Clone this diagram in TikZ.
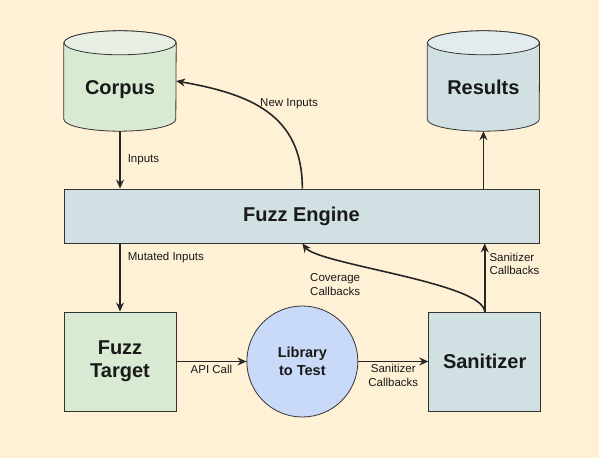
\documentclass[tikz,border=0pt]{standalone}
\usepackage{fontspec}
\setmainfont{Liberation Sans}
\usetikzlibrary{arrows.meta,positioning,backgrounds}
\definecolor{paper}{HTML}{FFF1D6}
\definecolor{leaf}{HTML}{D9EAD3}
\definecolor{leaftop}{HTML}{E7F0E3}
\definecolor{slate}{HTML}{D0E0E3}
\definecolor{slatetop}{HTML}{E2ECEE}
\definecolor{sky}{HTML}{C9DAF8}
\definecolor{edgegray}{HTML}{333333}

% body and lid of a storage drum round an (undrawn) node
\newcommand\drum[3]{%
  \filldraw[fill=#2,draw=edgegray,line width=0.8pt]
    ([yshift=-12pt]#1.north west) -- ([yshift=12pt]#1.south west)
    arc[start angle=180,end angle=360,x radius=56pt,y radius=12pt]
    -- ([yshift=-12pt]#1.north east)
    arc[start angle=0,end angle=180,x radius=56pt,y radius=12pt] -- cycle;
  \filldraw[fill=#3,draw=edgegray,line width=0.8pt]
    ([yshift=-12pt]#1.north) ellipse[x radius=56pt,y radius=12pt];
}

\begin{document}
\begin{tikzpicture}[x=1pt,y=1pt,
    every node/.style={text=black!90},
    box/.style={draw=edgegray,line width=0.9pt,minimum width=112pt,minimum height=99pt,
      align=center,font=\bfseries\fontsize{20}{23}\selectfont},
    drum/.style={minimum width=112pt,minimum height=100pt,text height=28pt,text depth=0pt,
      font=\bfseries\fontsize{20}{23}\selectfont},
    flow/.style={line width=1.6pt,draw=black!85,-{Stealth[length=9pt,width=8pt,inset=3pt]}},
    lbl/.style={font=\fontsize{11.5}{13.5}\selectfont,align=left,inner sep=2pt}]
  \useasboundingbox (0,0) rectangle (599,458);

  \path (120,96.5) node[box,fill=leaf] (target) {Fuzz\\Target};
  \path node[circle,draw=edgegray,line width=0.8pt,fill=sky,minimum size=111pt,align=center,
    font=\bfseries\fontsize{14.5}{18}\selectfont,right=70pt of target] (library) {Library\\to Test};
  \path node[box,fill=slate,right=70pt of library] (sanitizer) {Sanitizer};
  \path (301.5,242) node[box,fill=slate,minimum width=475pt,minimum height=54pt] (engine) {Fuzz Engine};
  \path (120,377) node[drum] (corpus) {Corpus};
  \path node[drum,right=251pt of corpus] (results) {Results};

  \begin{scope}[on background layer]
    \fill[paper] (0,0) rectangle (599,458);
    \drum{corpus}{leaf}{leaftop}
    \drum{results}{slate}{slatetop}
  \end{scope}

  \draw[flow] (corpus.south) -- node[lbl,right,xshift=5pt]{Inputs} (corpus.south |- engine.north);
  \draw[flow] (engine.south -| target) -- node[lbl,right,pos=0.2,xshift=5pt]{Mutated Inputs} (target.north);
  \draw[flow] (engine.north -| results) -- (results.south);
  \draw[flow] (sanitizer.north) -- node[lbl,right,pos=0.7,xshift=2pt]{Sanitizer\\Callbacks} (engine.south -| sanitizer);
  \draw[flow] (target.east) -- node[lbl,below,yshift=-1pt]{API Call} (library.west);
  \draw[flow] (library.east) -- node[lbl,below,align=center]{Sanitizer\\Callbacks} (sanitizer.west);
  \draw[flow] (engine.north -| library) to[out=90,in=-10,looseness=1.15] (corpus.east);
  \draw[flow] (sanitizer.north) .. controls +(-2,29) and +(16,-21) .. (engine.south -| library);
  \node[lbl] (newlbl) at (289,354) {New Inputs};
  \node[lbl,anchor=west] (covlbl) at (308,173.5) {Coverage\\Callbacks};
\end{tikzpicture}
\end{document}
